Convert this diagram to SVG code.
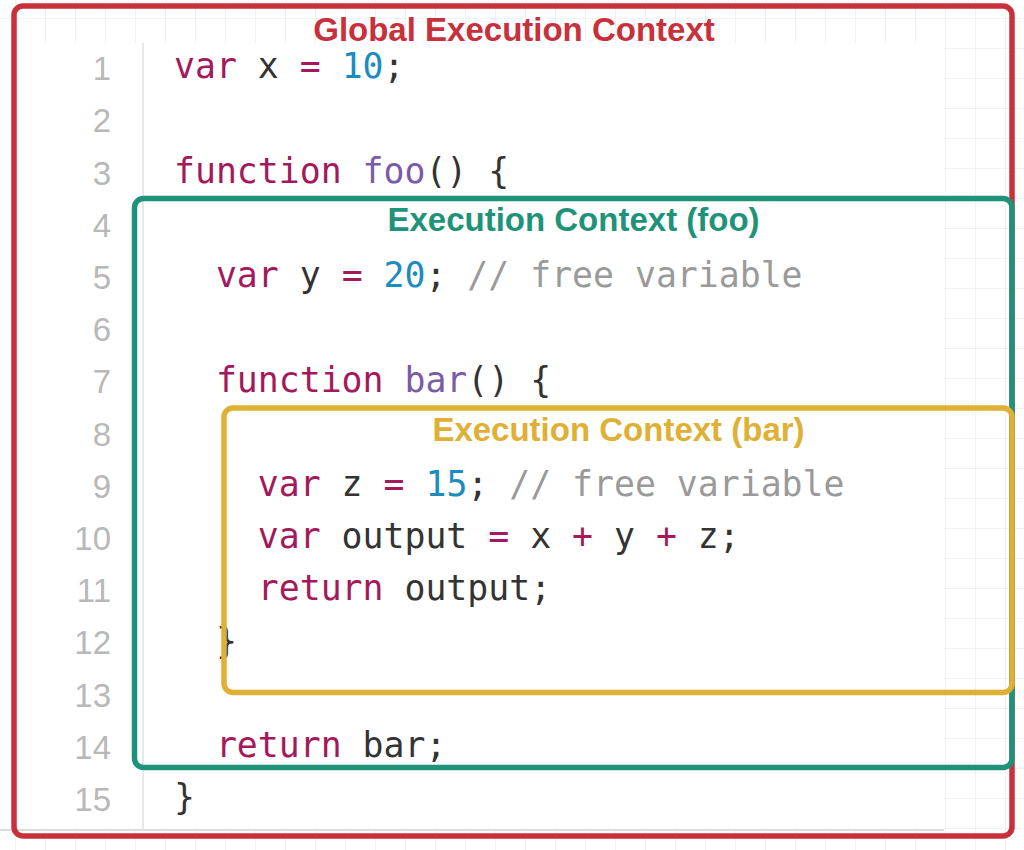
<svg xmlns="http://www.w3.org/2000/svg" width="1024" height="850" viewBox="0 0 1024 850">
  <defs>
    <pattern id="grid" x="15" y="18" width="30" height="30" patternUnits="userSpaceOnUse">
      <path d="M0 0 H30 M0 0 V30" fill="none" stroke="#e6e6e6" stroke-width="1"/>
    </pattern>
  </defs>
  <style>
    .code { font-family: "DejaVu Sans Mono", "Liberation Mono", monospace; font-size: 34.8px; fill: #333333; white-space: pre; }
    .kw { fill: #a3195b; }
    .num { fill: #1b8cbf; }
    .fn { fill: #7a5ba6; }
    .cm { fill: #9a9a9a; }
    .ln { font-family: "Liberation Sans", Arial, sans-serif; font-size: 33px; fill: #b8b8b8; text-anchor: end; }
    .lbl { font-family: "Liberation Sans", Arial, sans-serif; font-size: 33px; font-weight: bold; text-anchor: middle; }
    .box { fill: none; stroke-width: 5.5; }
  </style>

  <!-- background -->
  <rect x="0" y="0" width="1024" height="850" fill="#ffffff"/>
  <rect x="0" y="0" width="1024" height="850" fill="url(#grid)"/>
  <rect x="0" y="43" width="944" height="787" fill="#ffffff"/>
  <line x1="0" y1="830" x2="944" y2="830" stroke="#dcdcdc" stroke-width="2"/>
  <line x1="143" y1="43" x2="143" y2="830" stroke="#e8e8e8" stroke-width="2"/>

  <!-- line numbers -->
  <g id="line-numbers">
    <text class="ln" x="111" y="80">1</text>
    <text class="ln" x="111" y="132">2</text>
    <text class="ln" x="111" y="185">3</text>
    <text class="ln" x="111" y="237">4</text>
    <text class="ln" x="111" y="289">5</text>
    <text class="ln" x="111" y="341">6</text>
    <text class="ln" x="111" y="393">7</text>
    <text class="ln" x="111" y="446">8</text>
    <text class="ln" x="111" y="498">9</text>
    <text class="ln" x="111" y="550">10</text>
    <text class="ln" x="111" y="602">11</text>
    <text class="ln" x="111" y="654">12</text>
    <text class="ln" x="111" y="707">13</text>
    <text class="ln" x="111" y="759">14</text>
    <text class="ln" x="111" y="811">15</text>
  </g>

  <!-- code -->
  <g id="code">
    <text class="code" x="174" y="78.3" xml:space="preserve"><tspan class="kw">var</tspan> x <tspan class="kw">=</tspan> <tspan class="num">10</tspan>;</text>
    <text class="code" x="174" y="182.7" xml:space="preserve"><tspan class="kw">function</tspan> <tspan class="fn">foo</tspan>() {</text>
    <text class="code" x="174" y="287.1" xml:space="preserve">  <tspan class="kw">var</tspan> y <tspan class="kw">=</tspan> <tspan class="num">20</tspan>; <tspan class="cm">// free variable</tspan></text>
    <text class="code" x="174" y="391.5" xml:space="preserve">  <tspan class="kw">function</tspan> <tspan class="fn">bar</tspan>() {</text>
    <text class="code" x="174" y="495.9" xml:space="preserve">    <tspan class="kw">var</tspan> z <tspan class="kw">=</tspan> <tspan class="num">15</tspan>; <tspan class="cm">// free variable</tspan></text>
    <text class="code" x="174" y="548.1" xml:space="preserve">    <tspan class="kw">var</tspan> output <tspan class="kw">=</tspan> x <tspan class="kw">+</tspan> y <tspan class="kw">+</tspan> z;</text>
    <text class="code" x="174" y="600.3" xml:space="preserve">    <tspan class="kw">return</tspan> output;</text>
    <text class="code" x="174" y="652.5" xml:space="preserve">  }</text>
    <text class="code" x="174" y="756.9" xml:space="preserve">  <tspan class="kw">return</tspan> bar;</text>
    <text class="code" x="174" y="809.1" xml:space="preserve">}</text>
  </g>

  <!-- contexts -->
  <g id="global-context">
    <rect class="box" x="14" y="6" width="998" height="830" rx="9" stroke="#c8303c"/>
    <text class="lbl" x="514" y="40.5" fill="#c8303c">Global Execution Context</text>
  </g>
  <g id="foo-context">
    <rect class="box" x="134.5" y="198.5" width="877.5" height="569" rx="9" stroke="#1f937a"/>
    <text class="lbl" x="573.5" y="231" fill="#1f937a">Execution Context (foo)</text>
  </g>
  <g id="bar-context">
    <rect class="box" x="224" y="408" width="788" height="284.5" rx="9" stroke="#e0b035"/>
    <text class="lbl" x="618.5" y="441" fill="#e0b035">Execution Context (bar)</text>
  </g>
  <g id="connectors"/>
</svg>
